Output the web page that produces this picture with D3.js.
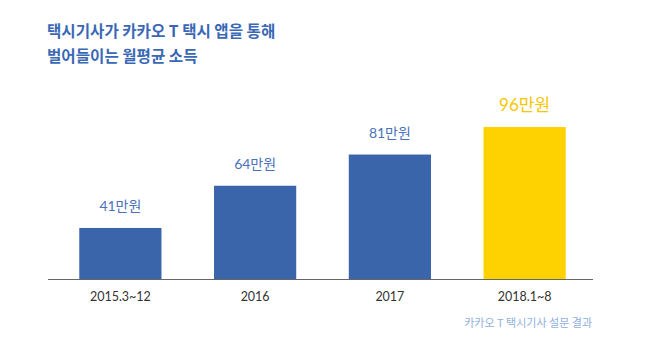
<!DOCTYPE html>
<html><head><meta charset="utf-8">
<script src="https://cdn.jsdelivr.net/npm/d3@7"></script>
<style>
body{margin:0;background:#fff;}
svg{display:block;font-family:Lato,"Noto Sans CJK KR",sans-serif;}
</style></head>
<body><svg id="c" width="648" height="357"></svg>
<script>
const categories = ["2015.3~12","2016","2017","2018.1~8"];
const values = [41,64,81,96];
const valueLabels = ["41만원","64만원","81만원","96만원"];
const titleLines = ["택시기사가 카카오 T 택시 앱을 통해","벌어들이는 월평균 소득"];
const source = "카카오 T 택시기사 설문 결과";

const svg = d3.select("#c");
const blue = "#3a65aa", yellow = "#fdd200";
const baseY = 279;

const x = d3.scaleBand().domain(categories).range([53,592]).paddingInner(0.39).paddingOuter(0.195);
const y = d3.scaleLinear().domain([13.2,96]).range([baseY,127]);

svg.append("g").selectAll("text").data(titleLines).join("text")
  .attr("x",47).attr("y",(d,i)=>37+i*25)
  .attr("font-size",15.6).attr("font-weight","bold").attr("fill","#3a68b5")
  .attr("font-family","'Noto Sans CJK KR',sans-serif")
  .text(d=>d);

svg.append("g").selectAll("rect").data(values).join("rect")
  .attr("x",(d,i)=>x(categories[i])).attr("width",x.bandwidth())
  .attr("y",d=>y(d)).attr("height",d=>baseY-y(d))
  .attr("fill",(d,i)=>i===3?yellow:blue);

svg.append("line").attr("x1",48).attr("x2",593).attr("y1",baseY+0.5).attr("y2",baseY+0.5)
  .attr("stroke","#666").attr("stroke-width",1);

svg.append("g").selectAll("text").data(values).join("text")
  .attr("x",(d,i)=>x(categories[i])+x.bandwidth()/2)
  .attr("y",(d,i)=>y(d)-(i===3?16:17))
  .attr("text-anchor","middle")
  .attr("font-size",(d,i)=>i===3?17:14)
  .attr("fill",(d,i)=>i===3?"#f7c600":"#4a72b8")
  .text((d,i)=>valueLabels[i]);

const xAxis = d3.axisBottom(x).tickSize(0).tickPadding(0);
const gx = svg.append("g").attr("transform",`translate(0,${baseY})`).call(xAxis);
gx.select(".domain").remove();
gx.selectAll("text").attr("dy",0).attr("y",22).attr("font-size",12.5).attr("fill","#333")
  .attr("font-family","Lato,sans-serif");

svg.append("text").attr("x",592).attr("y",327).attr("text-anchor","end")
  .attr("font-size",11).attr("fill","#8fb0de")
  .attr("font-family","'Noto Sans CJK KR',sans-serif")
  .text(source);
</script></body></html>
